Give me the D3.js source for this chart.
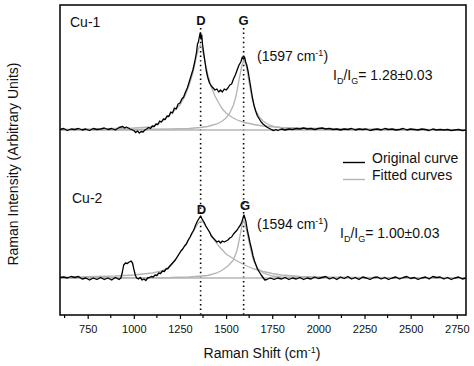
<!DOCTYPE html>
<html lang="en">
<head>
<meta charset="utf-8">
<script src="https://d3js.org/d3.v7.min.js"></script>
<title>Raman spectra Cu-1 / Cu-2</title>
<style>
  body { margin: 0; background: #fff; }
  text { font-family: "Liberation Sans", Arial, sans-serif; fill: #111; }
</style>
</head>
<body>
<svg id="chart" width="474" height="366"></svg>
<script>
// ---- data (Raman shift cm-1, intensity above each spectrum's baseline) ----
const majorTicks = [750, 1000, 1250, 1500, 1750, 2000, 2250, 2500, 2750];
const minorTicks = [625, 875, 1125, 1375, 1625, 1875, 2125, 2375, 2625];

const bandNames = ["D", "G"];
const bandShift = [1362, 1595];

const sampleNames = ["Cu-1", "Cu-2"];
const sampleOffset = [148, 0];
const gPosLabels = ["(1597 cm", "(1594 cm"];
const ratioLabels = ["1.28\u00b10.03", "1.00\u00b10.03"];

const cu1Original = [
  [600,0.5],[620,1.5],[640,-0.5],[660,1],[680,0.5],[700,1.5],[720,0],[740,1],[760,-0.5],[780,1.5],
  [800,0.5],[820,1],[840,2],[860,0.5],[880,1.5],[900,0],[920,2.5],[940,3.5],[950,2],[960,3],
  [980,1],[1000,-0.5],[1010,-2.5],[1020,-1],[1030,-3],[1040,-1.5],[1050,-2],[1060,0],[1070,1],[1080,2.5],
  [1090,1.5],[1100,4],[1110,3.5],[1120,6],[1130,5.5],[1140,9],[1150,8],[1160,11],[1170,10.5],[1180,14],
  [1190,13.5],[1200,18],[1210,17],[1220,22],[1230,21],[1240,26],[1250,27],[1260,31],[1270,33],[1280,38],
  [1290,42],[1300,48],[1310,54],[1320,60],[1330,68],[1340,78],[1345,86],[1350,88],[1355,93],[1360,97],
  [1364,91],[1368,95],[1372,86],[1378,78],[1385,69],[1392,60],[1400,53],[1410,47],[1420,44],[1430,42],
  [1440,40],[1450,41],[1460,38],[1470,40],[1480,38],[1490,41],[1500,40],[1510,42],[1520,45],[1530,46],
  [1540,51],[1550,55],[1560,60],[1570,65],[1580,68],[1588,73],[1594,71],[1600,73],[1606,68],[1612,65],
  [1620,58],[1628,49],[1636,40],[1644,31],[1652,24],[1660,19],[1670,14],[1680,11],[1690,8],[1700,6],
  [1710,4.5],[1720,3],[1730,2],[1740,1],[1750,0],[1760,-0.5],[1770,0.5],[1780,-0.5],[1800,1],[1820,0],
  [1840,1],[1860,0.5],[1880,1.5],[1900,1],[1920,2],[1940,1],[1960,1.5],[1980,0.5],[2000,1.5],[2020,2],
  [2040,1],[2060,1.5],[2080,0.5],[2100,1],[2120,0],[2140,1],[2160,0.5],[2180,1.5],[2200,0],[2220,1],
  [2240,0.5],[2260,1],[2280,-0.5],[2300,0.5],[2320,1],[2340,0],[2360,1.5],[2380,0.5],[2400,1],[2420,0],
  [2440,0.5],[2460,1.5],[2480,0],[2500,1],[2520,0.5],[2540,0],[2560,1],[2580,0.5],[2600,-0.5],[2620,1],
  [2640,0],[2660,0.5],[2680,0],[2700,0.5],[2720,-0.5],[2740,0],[2760,0.5],[2780,-0.5],[2800,0]
];

const cu1FitD = [
  [600,0.5],[800,1],[1000,2],[1100,3],[1150,8],[1200,16],[1250,25],[1280,35],[1300,45],[1320,57],
  [1340,74],[1350,81],[1360,85],[1370,82],[1380,73],[1400,56],[1420,43],[1440,34],[1460,27],[1480,21],
  [1500,17],[1530,13],[1560,10],[1600,7.5],[1650,5.5],[1700,4],[1800,2.5],[1900,2],[2000,1.5],[2200,1],
  [2500,0.5],[2800,0.3]
];

const cu1FitG = [
  [600,0],[1000,0.5],[1200,1],[1300,1.5],[1360,2.5],[1400,3.5],[1450,6],[1480,9],[1500,12],[1520,17],
  [1540,25],[1555,35],[1570,50],[1585,64],[1597,70],[1610,64],[1625,47],[1640,32],[1660,20],[1680,13],
  [1700,9],[1730,5.5],[1770,3],[1820,1.5],[1900,0.8],[2100,0.3],[2800,0]
];

const cu2Original = [
  [600,0.5],[620,1],[640,0],[660,1.5],[680,0.5],[700,1.5],[720,-1],[740,0],[760,-2],[780,0],
  [800,-1.5],[820,0.5],[840,-1.5],[860,0],[880,-2],[900,0.5],[920,-1.5],[930,0],[938,6],[945,13],
  [955,15],[965,14.5],[975,16],[985,17],[993,15],[1000,9],[1008,3],[1015,0],[1025,-1],[1035,0.5],
  [1045,-2],[1055,-1],[1065,-2.5],[1075,0],[1085,0.5],[1095,1.5],[1105,1],[1115,3],[1125,2.5],[1135,5],
  [1145,4.5],[1155,7],[1165,6.5],[1175,9],[1185,9.5],[1195,12],[1205,14],[1215,16],[1225,18],[1235,21],
  [1245,24],[1255,27],[1265,29],[1275,32],[1285,34],[1295,38],[1305,41],[1315,45],[1325,48],[1335,53],
  [1345,57],[1355,60],[1362,62],[1370,59],[1380,56],[1390,52],[1400,49],[1410,46],[1420,42],[1430,40],
  [1440,38],[1450,36],[1460,37],[1470,35],[1480,37],[1490,36],[1500,37],[1510,38],[1520,40],[1530,41],
  [1540,44],[1550,46],[1560,48],[1570,51],[1578,53],[1585,56],[1592,60],[1597,63],[1602,60],[1608,56],
  [1615,48],[1622,42],[1630,35],[1638,29],[1646,22],[1654,17],[1662,13],[1670,9],[1680,6],[1690,3],
  [1700,0.5],[1710,-2],[1720,-1.5],[1740,0],[1760,-1.5],[1780,0],[1800,-1],[1820,0.5],[1840,-1.5],[1860,0],
  [1880,-1],[1900,0.5],[1920,-1.5],[1940,0],[1960,-1],[1980,1],[2000,-0.5],[2020,0.5],[2040,1.5],[2060,-1],
  [2080,0.5],[2100,-1.5],[2120,1],[2140,-0.5],[2160,1.5],[2180,-1],[2200,0.5],[2220,-1.5],[2240,1],[2260,0],
  [2280,-1.5],[2300,0.5],[2320,1],[2340,-1],[2360,0.5],[2380,-1.5],[2400,0],[2420,1],[2440,-1],[2460,0.5],
  [2480,1.5],[2500,-0.5],[2520,0.5],[2540,-1.5],[2560,0],[2580,1],[2600,-1],[2620,1.5],[2640,0.5],[2660,1],
  [2680,-1],[2700,0.5],[2720,-1.5],[2740,0],[2760,1],[2780,-1],[2800,0]
];

const cu2FitD = [
  [600,0.5],[700,1],[800,1.5],[900,2],[1000,3],[1050,4],[1100,5],[1150,7],[1200,12],[1250,25],
  [1300,39],[1330,49],[1350,55],[1365,57],[1380,55],[1400,49],[1430,40],[1460,32],[1500,24],[1550,18],
  [1600,13],[1650,9],[1700,6.5],[1750,4.5],[1800,3],[1900,1.5],[2000,1],[2200,0.5],[2800,0]
];

const cu2FitG = [
  [600,0],[1200,0.5],[1300,1],[1400,2.5],[1450,5],[1480,8],[1510,12],[1540,18],[1560,28],[1575,42],
  [1588,54],[1595,57],[1605,53],[1620,40],[1635,27],[1650,17],[1670,10],[1700,5],[1750,2],[1800,1],
  [2000,0.3],[2800,0]
];

const baseline = [[600,0],[2800,0]];

const legendNames = ["Original curve", "Fitted curves"];
const legendColors = ["#000", "#b4b4b4"];

// ---- layout ----
const svg = d3.select("#chart");
const mLeft = 60, mTop = 5, mRight = 466, mBottom = 315;

const x = d3.scaleLinear().domain([600, 2800]).range([mLeft, mRight]);
const y = d3.scaleLinear().domain([-37, 273]).range([mBottom, mTop]);

const spectra = [
  {off: sampleOffset[0], orig: cu1Original, fits: [baseline, cu1FitD, cu1FitG]},
  {off: sampleOffset[1], orig: cu2Original, fits: [baseline, cu2FitD, cu2FitG]}
];

// dotted band markers
svg.selectAll("line.band")
  .data(bandShift)
  .join("line")
  .attr("class", "band")
  .attr("x1", d => x(d)).attr("x2", d => x(d))
  .attr("y1", 28).attr("y2", mBottom)
  .attr("stroke", "#000")
  .attr("stroke-width", 1.6)
  .attr("stroke-dasharray", "1.4,3.2");

spectra.forEach(s => {
  const line = d3.line().x(d => x(d[0])).y(d => y(d[1] + s.off));
  s.fits.forEach(f => {
    svg.append("path").attr("d", line(f))
      .attr("fill", "none").attr("stroke", legendColors[1]).attr("stroke-width", 1.3);
  });
  svg.append("path").attr("d", line(s.orig))
    .attr("fill", "none").attr("stroke", legendColors[0]).attr("stroke-width", 1.3)
    .attr("stroke-linejoin", "round");
});

// frame
svg.append("rect")
  .attr("x", mLeft).attr("y", mTop)
  .attr("width", mRight - mLeft).attr("height", mBottom - mTop)
  .attr("fill", "none").attr("stroke", "#000").attr("stroke-width", 1.5);

// x axis
const xAxis = svg.append("g")
  .attr("transform", `translate(0,${mBottom})`)
  .call(d3.axisBottom(x).tickValues(majorTicks).tickSize(4).tickPadding(6).tickFormat(d3.format("d")));
xAxis.select(".domain").remove();
xAxis.selectAll("text").style("font-size", "11px").attr("fill", "#000");
xAxis.selectAll("line").attr("stroke-width", 1.2);

svg.append("g").selectAll("line")
  .data(minorTicks)
  .join("line")
  .attr("x1", d => x(d)).attr("x2", d => x(d))
  .attr("y1", mBottom).attr("y2", mBottom + 3)
  .attr("stroke", "#000").attr("stroke-width", 1.2);

// axis titles
const xt = svg.append("text")
  .attr("x", 262).attr("y", 358)
  .attr("text-anchor", "middle")
  .style("font-size", "14px");
xt.append("tspan").text("Raman Shift (cm");
xt.append("tspan").attr("dy", -5).style("font-size", "9px").text("-1");
xt.append("tspan").attr("dy", 5).text(")");

svg.append("text")
  .attr("transform", "translate(18,164) rotate(-90)")
  .attr("text-anchor", "middle")
  .style("font-size", "14px")
  .text("Raman Intensity (Arbitrary Units)");

// sample annotations
const annot = [
  {name: [70, 27], D: [201, 25], G: [243.5, 25], pos: [257, 61], ratio: [333, 80]},
  {name: [72, 203], D: [201.5, 214], G: [245, 210], pos: [257, 229], ratio: [340, 238]}
];

annot.forEach((a, i) => {
  svg.append("text").attr("x", a.name[0]).attr("y", a.name[1])
    .style("font-size", "14px").text(sampleNames[i]);

  [a.D, a.G].forEach((p, j) => {
    svg.append("text").attr("x", p[0]).attr("y", p[1])
      .attr("text-anchor", "middle")
      .style("font-size", "13px").style("font-weight", "bold")
      .text(bandNames[j]);
  });

  const pt = svg.append("text").attr("x", a.pos[0]).attr("y", a.pos[1]).style("font-size", "14px");
  pt.append("tspan").text(gPosLabels[i]);
  pt.append("tspan").attr("dy", -5).style("font-size", "9px").text("-1");
  pt.append("tspan").attr("dy", 5).text(")");

  const rt = svg.append("text").attr("x", a.ratio[0]).attr("y", a.ratio[1]).style("font-size", "14px");
  rt.append("tspan").text("I");
  rt.append("tspan").attr("dy", 4).style("font-size", "9px").text("D");
  rt.append("tspan").attr("dy", -4).text("/I");
  rt.append("tspan").attr("dy", 4).style("font-size", "9px").text("G");
  rt.append("tspan").attr("dy", -4).text("= " + ratioLabels[i]);
});

// legend
const legend = svg.append("g");
legendNames.forEach((n, i) => {
  const ly = 162.5 + i * 17;
  legend.append("line")
    .attr("x1", 343).attr("x2", 365).attr("y1", ly).attr("y2", ly)
    .attr("stroke", legendColors[i]).attr("stroke-width", 1.4);
  legend.append("text")
    .attr("x", 372).attr("y", 163 + i * 17)
    .style("font-size", "14px")
    .text(n);
});
</script>
</body>
</html>
